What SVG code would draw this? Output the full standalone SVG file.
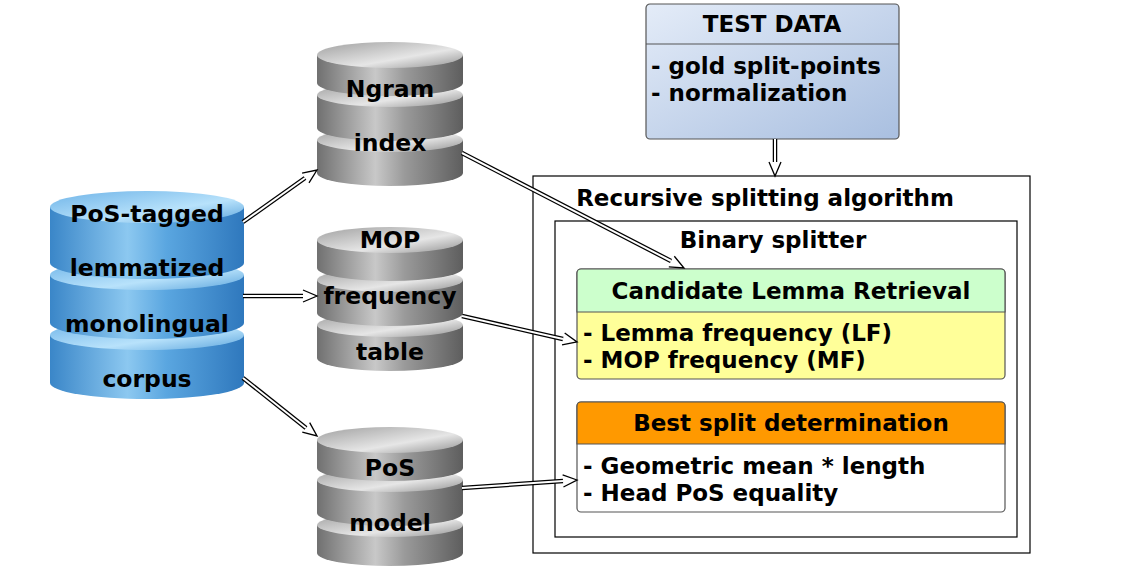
<svg xmlns="http://www.w3.org/2000/svg" width="1140" height="582" viewBox="0 0 1140 582">
<defs>
<linearGradient id="blue" x1="0" x2="1" y1="0" y2="0"><stop offset="0" stop-color="#3a86c8"/><stop offset="0.4" stop-color="#8cc8f0"/><stop offset="0.6" stop-color="#5aa6e0"/><stop offset="1" stop-color="#2f78bd"/></linearGradient>
<linearGradient id="bluetop" x1="0" x2="1" y1="0" y2="1"><stop offset="0" stop-color="#6fb4e8"/><stop offset="0.6" stop-color="#b8e2fb"/><stop offset="1" stop-color="#5ba4dc"/></linearGradient>
<linearGradient id="gray" x1="0" x2="1" y1="0" y2="0"><stop offset="0" stop-color="#707070"/><stop offset="0.4" stop-color="#c8c8c8"/><stop offset="0.6" stop-color="#9a9a9a"/><stop offset="1" stop-color="#5e5e5e"/></linearGradient>
<linearGradient id="graytop" x1="0" x2="1" y1="0" y2="1"><stop offset="0" stop-color="#a0a0a0"/><stop offset="0.6" stop-color="#e6e6e6"/><stop offset="1" stop-color="#909090"/></linearGradient>
<linearGradient id="test" x1="0" x2="1" y1="0" y2="1"><stop offset="0" stop-color="#e4ecf8"/><stop offset="1" stop-color="#a9bfe0"/></linearGradient>
<marker id="ah" markerUnits="userSpaceOnUse" markerWidth="20" markerHeight="16" refX="15" refY="7" orient="auto"><path d="M1,1 L15,7 L1,13" fill="none" stroke="#000" stroke-width="1.3"/></marker>
<style>
text{font-family:"DejaVu Sans",sans-serif;font-weight:bold;fill:#000}
.l{font-size:23.5px;text-anchor:middle}
.b{font-size:23px}
.box{stroke:#555;stroke-width:1.2}
.o{fill:none;stroke:#000;stroke-width:4.5}
.i{fill:none;stroke:#fff;stroke-width:2}
.m{fill:none;stroke:none;marker-end:url(#ah)}
</style>
</defs>
<g id="corpus">
<path d="M50,335 v48 a97,16 0 0 0 194,0 v-48 z" fill="url(#blue)"/><ellipse cx="147" cy="335" rx="97" ry="15" fill="url(#bluetop)"/>
<path d="M50,275 v48 a97,16 0 0 0 194,0 v-48 z" fill="url(#blue)"/><ellipse cx="147" cy="275" rx="97" ry="15" fill="url(#bluetop)"/>
<path d="M50,207 v56 a97,16 0 0 0 194,0 v-56 z" fill="url(#blue)"/><ellipse cx="147" cy="207" rx="97" ry="16" fill="url(#bluetop)"/>
<text class="l" x="147" y="222">PoS-tagged</text><text class="l" x="147" y="276">lemmatized</text><text class="l" x="147" y="332">monolingual</text><text class="l" x="147" y="387">corpus</text>
</g>
<g id="ngram">
<path d="M317,140 v33 a73,13 0 0 0 146,0 v-33 z" fill="url(#gray)"/><ellipse cx="390" cy="140" rx="73" ry="12" fill="url(#graytop)"/>
<path d="M317,95 v33 a73,13 0 0 0 146,0 v-33 z" fill="url(#gray)"/><ellipse cx="390" cy="95" rx="73" ry="12" fill="url(#graytop)"/>
<path d="M317,55 v28 a73,13 0 0 0 146,0 v-28 z" fill="url(#gray)"/><ellipse cx="390" cy="55" rx="73" ry="13" fill="url(#graytop)"/>
<text class="l" x="390" y="97">Ngram</text><text class="l" x="390" y="151">index</text>
</g>
<g id="mop">
<path d="M317,325 v33 a73,13 0 0 0 146,0 v-33 z" fill="url(#gray)"/><ellipse cx="390" cy="325" rx="73" ry="12" fill="url(#graytop)"/>
<path d="M317,280 v33 a73,13 0 0 0 146,0 v-33 z" fill="url(#gray)"/><ellipse cx="390" cy="280" rx="73" ry="12" fill="url(#graytop)"/>
<path d="M317,240 v28 a73,13 0 0 0 146,0 v-28 z" fill="url(#gray)"/><ellipse cx="390" cy="240" rx="73" ry="13" fill="url(#graytop)"/>
<text class="l" x="390" y="248">MOP</text><text class="l" x="390" y="304">frequency</text><text class="l" x="390" y="360">table</text>
</g>
<g id="pos">
<path d="M317,525 v28 a73,13 0 0 0 146,0 v-28 z" fill="url(#gray)"/><ellipse cx="390" cy="525" rx="73" ry="12" fill="url(#graytop)"/>
<path d="M317,480 v33 a73,13 0 0 0 146,0 v-33 z" fill="url(#gray)"/><ellipse cx="390" cy="480" rx="73" ry="12" fill="url(#graytop)"/>
<path d="M317,440 v28 a73,13 0 0 0 146,0 v-28 z" fill="url(#gray)"/><ellipse cx="390" cy="440" rx="73" ry="13" fill="url(#graytop)"/>
<text class="l" x="390" y="476">PoS</text><text class="l" x="390" y="531">model</text>
</g>
<g id="testdata">
<rect class="box" x="646" y="4" width="253" height="135" rx="4" fill="url(#test)"/>
<line x1="646" y1="44" x2="899" y2="44" stroke="#555" stroke-width="1.2"/>
<text class="b" x="772" y="32" text-anchor="middle">TEST DATA</text>
<text class="b" x="651" y="74">- gold split-points</text>
<text class="b" x="651" y="101">- normalization</text>
</g>
<g id="recursive">
<rect x="533" y="176" width="497" height="377" fill="#fff" stroke="#000" stroke-width="1.2"/>
<text class="b" x="765" y="206" text-anchor="middle">Recursive splitting algorithm</text>
</g>
<g id="binary">
<rect x="555" y="221" width="462" height="316" fill="#fff" stroke="#000" stroke-width="1.2"/>
<text class="b" x="773" y="248" text-anchor="middle">Binary splitter</text>
</g>
<g id="candidate">
<rect class="box" x="577" y="269" width="428" height="110" rx="4" fill="#ffff99"/>
<path d="M581,269 h420 a4,4 0 0 1 4,4 v39 h-428 v-39 a4,4 0 0 1 4,-4 z" fill="#ccffcc" class="box"/>
<text class="b" x="791" y="299" text-anchor="middle">Candidate Lemma Retrieval</text>
<text class="b" x="583" y="341">- Lemma frequency (LF)</text>
<text class="b" x="583" y="368">- MOP frequency (MF)</text>
</g>
<g id="bestsplit">
<rect class="box" x="577" y="402" width="428" height="110" rx="4" fill="#fff"/>
<path d="M581,402 h420 a4,4 0 0 1 4,4 v38 h-428 v-38 a4,4 0 0 1 4,-4 z" fill="#ff9900" class="box"/>
<text class="b" x="791" y="431" text-anchor="middle">Best split determination</text>
<text class="b" x="583" y="474">- Geometric mean * length</text>
<text class="b" x="583" y="501">- Head PoS equality</text>
</g>
<g id="connectors">
<path class="o" d="M243,222 L305,178"/><path class="i" d="M243,222 L305,178"/><path class="m" d="M243,222 L317,170"/>
<path class="o" d="M243,296 L303,296"/><path class="i" d="M243,296 L303,296"/><path class="m" d="M243,296 L317,296"/>
<path class="o" d="M243,378 L306,428"/><path class="i" d="M243,378 L306,428"/><path class="m" d="M243,378 L317,436"/>
<path class="o" d="M462,153 L671,261"/><path class="i" d="M462,153 L671,261"/><path class="m" d="M462,153 L684,268"/>
<path class="o" d="M462,316 L563,339"/><path class="i" d="M462,316 L563,339"/><path class="m" d="M462,316 L577,342"/>
<path class="o" d="M462,488 L563,481"/><path class="i" d="M462,488 L563,481"/><path class="m" d="M462,488 L577,480"/>
<path class="o" d="M775,139 L775,162"/><path class="i" d="M775,139 L775,162"/><path class="m" d="M775,139 L775,176"/>
</g>
</svg>
